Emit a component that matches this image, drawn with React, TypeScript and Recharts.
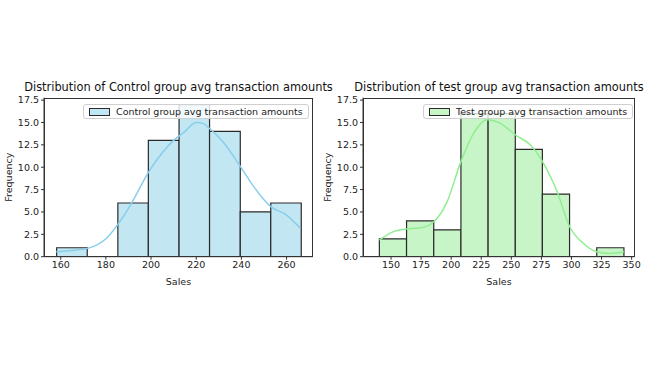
import { ComposedChart, Line, XAxis, YAxis, ReferenceArea } from 'recharts';

// control group histogram
const controlEdges = [158.2, 171.75, 185.3, 198.8, 212.4, 225.9, 239.5, 253.0, 266.5];
const controlCounts = [1, 0, 6, 13, 17, 14, 5, 6];
const controlKdeX = [158, 165, 172, 180, 185, 190, 200, 210, 215, 220, 223, 226, 232, 240, 245, 253, 260, 266];
const controlKdeY = [0.56, 0.7, 0.93, 2.0, 3.5, 5.4, 9.9, 13.0, 14.0, 15.0, 14.9, 14.3, 12.8, 9.9, 8.0, 5.6, 4.65, 3.2];
const controlTicks = [160, 180, 200, 220, 240, 260];

// test group histogram
const testEdges = [140.3, 162.9, 185.5, 208.1, 230.7, 253.3, 275.8, 298.4, 321.0, 343.6];
const testCounts = [2, 4, 3, 16, 16, 12, 7, 0, 1];
const testKdeX = [140.3, 152, 163, 174, 185.5, 196.5, 208, 218.7, 229.7, 240.8, 253.5, 265.7, 276, 287.7, 298.5, 309.8, 320.9, 332, 343.6];
const testKdeY = [1.86, 2.8, 3.1, 3.2, 3.9, 6.1, 10.6, 13.8, 15.3, 14.9, 13.6, 12.5, 10.6, 7.4, 3.35, 1.5, 0.56, 0.37, 0.56];
const testTicks = [150, 175, 200, 225, 250, 275, 300, 325, 350];

const yTicks = [0, 2.5, 5, 7.5, 10, 12.5, 15, 17.5];

const FONT = '"DejaVu Sans", sans-serif';
const AXIS = '#333';

interface HistProps {
  title: string;
  legend: string;
  edges: number[];
  counts: number[];
  kdeX: number[];
  kdeY: number[];
  xTicks: number[];
  xDomain: [number, number];
  fill: string;
  line: string;
  legendLeft: number;
  plotWidth: number;
}

function Hist({ title, legend, edges, counts, kdeX, kdeY, xTicks, xDomain, fill, line, legendLeft, plotWidth }: HistProps) {
  const kde = kdeX.map((x, i) => ({ x, y: kdeY[i] }));
  const W = 330;
  const right = W - 44 - plotWidth;
  const center = 44 + plotWidth / 2;
  return (
    <div style={{ position: 'relative', width: W, height: 300 }}>
      <div
        style={{
          position: 'absolute',
          top: 80,
          left: center - 200,
          width: 400,
          textAlign: 'center',
          fontSize: 11.4,
          color: '#111',
          whiteSpace: 'nowrap',
          fontFamily: FONT,
        }}
      >
        {title}
      </div>
      <ComposedChart width={W} height={300} data={kde} margin={{ top: 97.7, right, bottom: 13.3, left: 14 }}>
        <XAxis
          dataKey="x"
          type="number"
          domain={xDomain}
          ticks={xTicks}
          allowDataOverflow
          stroke={AXIS}
          tickSize={3}
          height={30}
          tick={{ fontSize: 9.5, fill: '#222', fontFamily: FONT }}
          label={{ value: 'Sales', position: 'insideBottom', offset: 2, fontSize: 9.5, fill: '#222', fontFamily: FONT }}
        />
        <YAxis
          type="number"
          domain={[0, 17.77]}
          ticks={yTicks}
          allowDataOverflow
          stroke={AXIS}
          tickSize={3}
          width={30}
          tickFormatter={(v: number) => v.toFixed(1)}
          tick={{ fontSize: 9.5, fill: '#222', fontFamily: FONT }}
          label={{ value: 'Frequency', angle: -90, position: 'insideLeft', offset: -5, fontSize: 9.5, fill: '#222', fontFamily: FONT, style: { textAnchor: 'middle' } }}
        />
        {counts.map((c, i) =>
          c > 0 ? (
            <ReferenceArea
              key={i}
              x1={edges[i]}
              x2={edges[i + 1]}
              y1={0}
              y2={c}
              fill={fill}
              fillOpacity={1}
              stroke="#2a2a2a"
              strokeWidth={1.2}
              ifOverflow="hidden"
            />
          ) : null
        )}
        <Line dataKey="y" type="monotone" stroke={line} strokeWidth={1.5} dot={false} isAnimationActive={false} />
      </ComposedChart>
      {/* axes frame */}
      <div
        style={{
          position: 'absolute',
          left: 44,
          top: 97.7,
          width: plotWidth,
          height: 159,
          boxSizing: 'border-box',
          border: `1px solid ${AXIS}`,
          pointerEvents: 'none',
        }}
      />
      <div
        style={{
          position: 'absolute',
          top: 104,
          left: legendLeft,
          height: 13,
          display: 'flex',
          alignItems: 'center',
          gap: 6,
          padding: '0 5px',
          background: 'rgba(255,255,255,0.8)',
          border: '1px solid #d0d0d0',
          borderRadius: 3,
          fontSize: 9.5,
          color: '#222',
          fontFamily: FONT,
          whiteSpace: 'nowrap',
        }}
      >
        <span style={{ width: 19, height: 6, background: fill, border: '1px solid #2a2a2a', display: 'inline-block' }} />
        <span>{legend}</span>
      </div>
    </div>
  );
}

export default function App() {
  return (
    <div style={{ position: 'absolute', left: 0, top: 0, width: 650, height: 366, background: '#fff', overflow: 'hidden' }}>
      <div style={{ position: 'absolute', left: 0, top: 0 }}>
        <Hist
          title="Distribution of Control group avg transaction amounts"
          legend="Control group avg transaction amounts"
          edges={controlEdges}
          counts={controlCounts}
          kdeX={controlKdeX}
          kdeY={controlKdeY}
          xTicks={controlTicks}
          xDomain={[152.6, 271.7]}
          fill="#c3e6f3"
          line="#87ceeb"
          legendLeft={83}
          plotWidth={269}
        />
      </div>
      <div style={{ position: 'absolute', left: 319, top: 0 }}>
        <Hist
          title="Distribution of test group avg transaction amounts"
          legend="Test group avg transaction amounts"
          edges={testEdges}
          counts={testCounts}
          kdeX={testKdeX}
          kdeY={testKdeY}
          xTicks={testTicks}
          xDomain={[126.7, 352.8]}
          fill="#c8f5c8"
          line="#90ee90"
          legendLeft={104}
          plotWidth={272}
        />
      </div>
    </div>
  );
}
